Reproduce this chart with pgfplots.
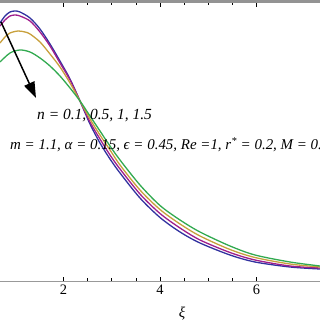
\documentclass[border=0pt]{standalone}
\usepackage{fontspec}
\setmainfont{Liberation Serif}
\usepackage{pgfplots}
\pgfplotsset{compat=1.18}
\usetikzlibrary{arrows.meta}
\definecolor{cblue}{RGB}{50,50,160}
\definecolor{cpurple}{RGB}{160,30,140}
\definecolor{cyellow}{RGB}{200,160,60}
\definecolor{cgreen}{RGB}{50,170,80}
\begin{document}
\begin{tikzpicture}
\begin{axis}[name=ax, at={(0,0)}, anchor=south west, scale only axis,
  width=320bp, height=278bp,
  xmin=0.684, xmax=7.316, ymin=0, ymax=2.78,
  separate axis lines,
  x axis line style={gray!80, line width=1bp},
  y axis line style={draw=none},
  ytick=\empty,
  xtick={2,4,6}, minor x tick num=3, xtick pos=both,
  tick align=inside, major tick length=4bp, minor tick length=2.5bp,
  every tick/.style={black, line width=0.6bp},
  ticklabel style={font=\fontsize{14.5}{14.5}\selectfont},
  /pgf/number format/assume math mode=true,
  every axis plot/.append style={line width=1.3bp, smooth, no marks},
]
\addplot[cblue] coordinates {(0.684,2.58)(0.788,2.65)(0.891,2.69)(0.995,2.70)(1.098,2.69)(1.306,2.63)(1.513,2.52)(1.720,2.37)(1.927,2.20)(2.135,2.02)(2.342,1.80)(2.549,1.57)(2.756,1.38)(2.964,1.22)(3.171,1.08)(3.585,0.83)(4.000,0.635)(4.415,0.49)(4.829,0.38)(5.451,0.26)(5.969,0.19)(6.694,0.14)(7.316,0.12)};
\addplot[cpurple] coordinates {(0.684,2.55)(0.788,2.61)(0.891,2.65)(0.995,2.66)(1.098,2.65)(1.306,2.60)(1.513,2.49)(1.720,2.35)(1.927,2.18)(2.135,2.01)(2.342,1.80)(2.549,1.59)(2.756,1.42)(2.964,1.26)(3.171,1.12)(3.585,0.87)(4.000,0.675)(4.415,0.53)(4.829,0.41)(5.451,0.285)(5.969,0.21)(6.694,0.15)(7.316,0.13)};
\addplot[cyellow] coordinates {(0.684,2.38)(0.788,2.44)(0.891,2.48)(1.057,2.50)(1.202,2.49)(1.306,2.47)(1.513,2.39)(1.720,2.27)(1.927,2.14)(2.135,1.98)(2.342,1.80)(2.549,1.62)(2.756,1.46)(2.964,1.31)(3.171,1.16)(3.585,0.91)(4.000,0.715)(4.415,0.57)(4.829,0.45)(5.451,0.315)(5.969,0.235)(6.694,0.17)(7.316,0.14)};
\addplot[cgreen] coordinates {(0.684,2.19)(0.891,2.28)(1.098,2.31)(1.306,2.29)(1.513,2.23)(1.720,2.15)(1.927,2.05)(2.135,1.93)(2.342,1.80)(2.549,1.65)(2.756,1.50)(2.964,1.35)(3.171,1.21)(3.585,0.96)(4.000,0.755)(4.415,0.61)(4.829,0.49)(5.451,0.35)(5.969,0.26)(6.694,0.19)(7.316,0.15)};
\draw[black, line width=1.5bp, -{Triangle[length=16bp,width=11bp]}] (axis cs:0.705,2.59) -- (axis cs:1.43,1.83);
\end{axis}
\draw[gray!85, line width=2.5bp] (0,279.5bp) -- (320bp,279.5bp);
\node[anchor=base west, inner sep=0] at (37bp,161bp) {\fontsize{15.5}{15.5}\selectfont\itshape n = 0.1, 0.5, 1, 1.5};
\node[anchor=base west, inner sep=0] at (10bp,131bp) {\fontsize{15}{15}\selectfont\itshape m = 1.1, α = 0.15, ϵ = 0.45, Re =1, r\textsuperscript{*} = 0.2, M = 0.5};
\node[anchor=base, inner sep=0] at (182bp,-36bp) {\fontsize{15}{15}\selectfont\itshape ξ};
\pgfresetboundingbox
\path[use as bounding box] (0,-39bp) rectangle (320bp,281bp);
\end{tikzpicture}
\end{document}
